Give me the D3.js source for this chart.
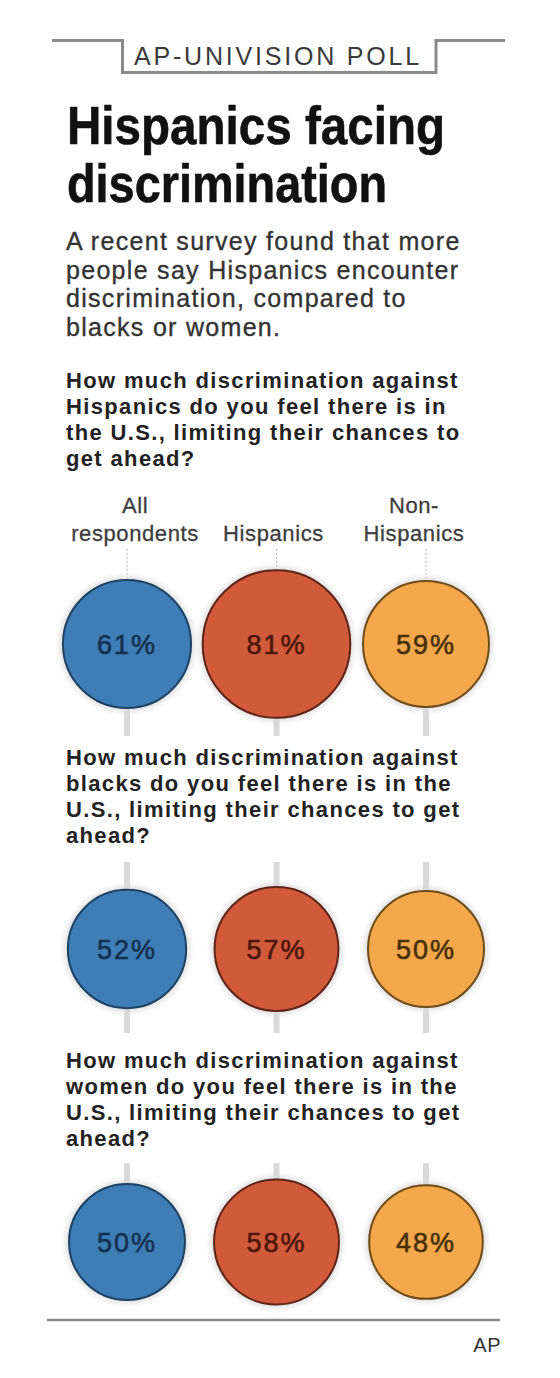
<!DOCTYPE html>
<html>
<head>
<meta charset="utf-8">
<script src="https://cdn.jsdelivr.net/npm/d3@7"></script>
<style>
  html, body { margin: 0; padding: 0; background: #fff; }
  svg { display: block; }
</style>
</head>
<body>
<svg id="chart" width="560" height="1378"></svg>
<script>
// ---------- DATA ----------
const groups = ["All respondents", "Hispanics", "Non-Hispanics"];
const groupLabelLines = [["All", "respondents"], ["Hispanics"], ["Non-", "Hispanics"]];
const valuesHispanics = [61, 81, 59];
const valuesBlacks = [52, 57, 50];
const valuesWomen = [50, 58, 48];
const kicker = "AP-UNIVISION POLL";
const titleLines = ["Hispanics facing", "discrimination"];
const subtitleLines = [
  "A recent survey found that more",
  "people say Hispanics encounter",
  "discrimination, compared to",
  "blacks or women."
];
const questionHispanics = [
  "How much discrimination against",
  "Hispanics do you feel there is in",
  "the U.S., limiting their chances to",
  "get ahead?"
];
const questionBlacks = [
  "How much discrimination against",
  "blacks do you feel there is in the",
  "U.S., limiting their chances to get",
  "ahead?"
];
const questionWomen = [
  "How much discrimination against",
  "women do you feel there is in the",
  "U.S., limiting their chances to get",
  "ahead?"
];
const source = "AP";

// ---------- STYLE / LAYOUT ----------
const fillColors = ["#3f7db7", "#d15a3b", "#f4a84b"];
const strokeColors = ["#1d4263", "#5e2418", "#6e4c1c"];
const textColors = ["#15304d", "#4a160d", "#46300c"];
const labelOffsets = [8, -3, -12];

const svg = d3.select("#chart");
const defs = svg.append("defs");
const glow = defs.append("filter").attr("id", "glow")
  .attr("x", "-30%").attr("y", "-30%").attr("width", "160%").attr("height", "160%");
glow.append("feGaussianBlur").attr("stdDeviation", 3);

const x = d3.scalePoint().domain(groups).range([127, 426]);
const r = d3.scaleSqrt().domain([0, 100]).range([0, 82]);

const sans = "'Liberation Sans', Arial, Helvetica, sans-serif";

// ---------- HEADER ----------
svg.append("path")
  .attr("d", d3.line()([[52, 40.5], [122.5, 40.5], [122.5, 72.5], [436, 72.5], [436, 40.5], [505, 40.5]]))
  .attr("fill", "none").attr("stroke", "#8a8a8a").attr("stroke-width", 3);

svg.append("text")
  .attr("x", 278).attr("y", 64.5)
  .attr("text-anchor", "middle")
  .attr("font-family", sans).attr("font-size", 25)
  .attr("letter-spacing", 2.8)
  .attr("fill", "#3a3a3a")
  .text(kicker);

// ---------- TITLE ----------
const titleWidths = [378, 320];
svg.selectAll("text.title").data(titleLines).join("text")
  .attr("class", "title")
  .attr("x", 67).attr("y", (d, i) => 144 + i * 57.5)
  .attr("font-family", sans).attr("font-weight", "bold").attr("font-size", 54)
  .attr("textLength", (d, i) => titleWidths[i])
  .attr("lengthAdjust", "spacingAndGlyphs")
  .attr("fill", "#111")
  .attr("stroke", "#111").attr("stroke-width", 0.6)
  .text(d => d);

// ---------- SUBTITLE ----------
svg.selectAll("text.sub").data(subtitleLines).join("text")
  .attr("class", "sub")
  .attr("x", 66).attr("y", (d, i) => 250 + i * 28.5)
  .attr("font-family", sans).attr("font-size", 25)
  .attr("letter-spacing", 1.3)
  .attr("fill", "#333")
  .attr("stroke", "#333").attr("stroke-width", 0.35)
  .text(d => d);

// ---------- QUESTIONS ----------
function question(lines, y0) {
  svg.append("g").selectAll("text").data(lines).join("text")
    .attr("x", 66).attr("y", (d, i) => y0 + i * 26)
    .attr("font-family", sans).attr("font-weight", "bold").attr("font-size", 22)
    .attr("letter-spacing", 1.35)
    .attr("fill", "#222")
    .text(d => d);
}
question(questionHispanics, 388);
question(questionBlacks, 765);
question(questionWomen, 1068);

// ---------- COLUMN LABELS ----------
groups.forEach((g, i) => {
  const lines = groupLabelLines[i];
  const t = svg.append("text")
    .attr("text-anchor", "middle")
    .attr("font-family", sans).attr("font-size", 22)
    .attr("letter-spacing", 0.6)
    .attr("fill", "#3d3d3d")
    .attr("stroke", "#3d3d3d").attr("stroke-width", 0.3);
  lines.forEach((ln, j) => {
    t.append("tspan")
      .attr("x", x(g) + labelOffsets[i])
      .attr("y", 541 - (lines.length - 1 - j) * 28)
      .text(ln);
  });
});

// ---------- BUBBLE ROWS ----------
function row(values, cy, opts) {
  const g = svg.append("g");
  const data = groups.map((k, i) => ({ key: k, value: values[i], i }));
  if (opts.dottedTop) {
    g.selectAll("line.dot").data(data).join("line")
      .attr("x1", d => x(d.key)).attr("x2", d => x(d.key))
      .attr("y1", opts.dottedTop).attr("y2", cy)
      .attr("stroke", "#aaa").attr("stroke-width", 1.2)
      .attr("stroke-dasharray", "1.5,2.5");
  }
  if (opts.stickTop) {
    g.selectAll("line.st").data(data).join("line")
      .attr("x1", d => x(d.key)).attr("x2", d => x(d.key))
      .attr("y1", opts.stickTop).attr("y2", cy)
      .attr("stroke", "#d9d9d9").attr("stroke-width", 6);
  }
  if (opts.stickBottom) {
    g.selectAll("line.sb").data(data).join("line")
      .attr("x1", d => x(d.key)).attr("x2", d => x(d.key))
      .attr("y1", cy).attr("y2", opts.stickBottom)
      .attr("stroke", "#d9d9d9").attr("stroke-width", 6);
  }
  g.selectAll("circle.glow").data(data).join("circle")
    .attr("class", "glow")
    .attr("cx", d => x(d.key)).attr("cy", cy)
    .attr("r", d => r(d.value) + 3)
    .attr("fill", "#dadada")
    .attr("filter", "url(#glow)");
  g.selectAll("circle.b").data(data).join("circle")
    .attr("class", "b")
    .attr("cx", d => x(d.key)).attr("cy", cy)
    .attr("r", d => r(d.value))
    .attr("fill", d => fillColors[d.i])
    .attr("stroke", d => strokeColors[d.i])
    .attr("stroke-width", 2);
  g.selectAll("text").data(data).join("text")
    .attr("x", d => x(d.key)).attr("y", cy + 9.5)
    .attr("text-anchor", "middle")
    .attr("font-family", sans).attr("font-size", 27)
    .attr("letter-spacing", 2)
    .attr("fill", d => textColors[d.i])
    .attr("stroke", d => textColors[d.i]).attr("stroke-width", 0.55)
    .text(d => d.value + "%");
}
row(valuesHispanics, 644, { dottedTop: 549, stickBottom: 736 });
row(valuesBlacks, 949, { stickTop: 862, stickBottom: 1033 });
row(valuesWomen, 1242, { stickTop: 1163 });

// ---------- FOOTER ----------
svg.append("line")
  .attr("x1", 47).attr("x2", 500).attr("y1", 1320).attr("y2", 1320)
  .attr("stroke", "#8a8a8a").attr("stroke-width", 2.5);
svg.append("text")
  .attr("x", 501).attr("y", 1352)
  .attr("text-anchor", "end")
  .attr("font-family", sans).attr("font-size", 20)
  .attr("letter-spacing", 0.5)
  .attr("fill", "#333")
  .text(source);
</script>
</body>
</html>
